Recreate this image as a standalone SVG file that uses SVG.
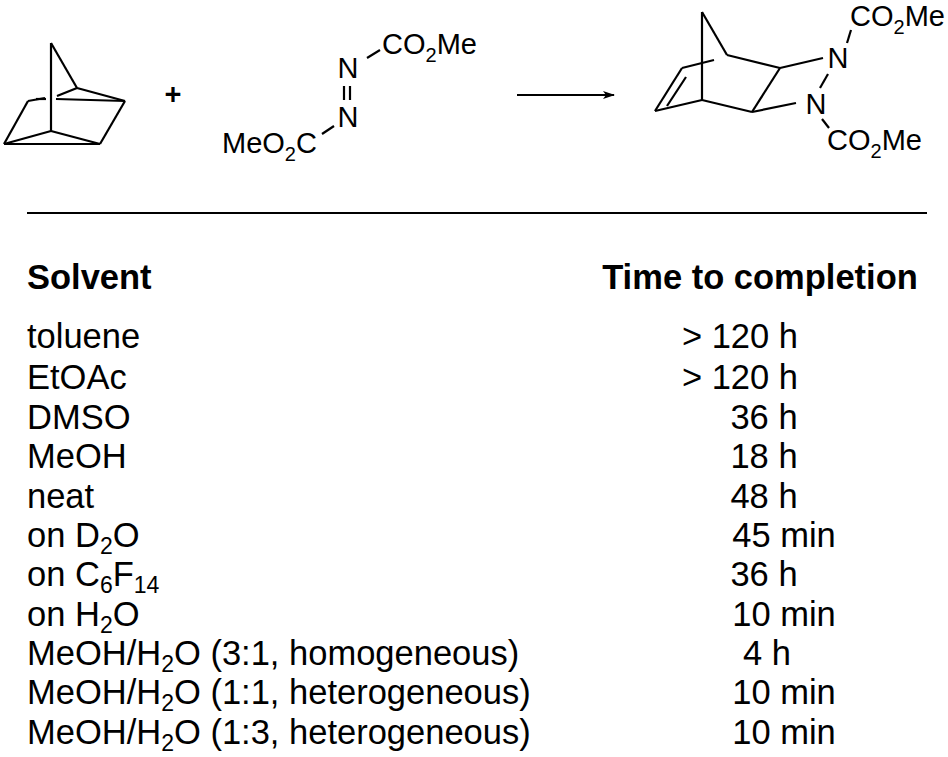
<svg xmlns="http://www.w3.org/2000/svg" width="948" height="757" viewBox="0 0 948 757">
<style>
line,polyline{stroke:#000;stroke-width:2.2;fill:none}
text{font-family:"Liberation Sans",Arial,sans-serif;fill:#000}
.t{font-size:29px}
.r{font-size:34.5px}
.h{font-size:34.5px;font-weight:bold}
.c{text-anchor:middle}
</style>
<defs><marker id="ah" markerWidth="12" markerHeight="8" refX="11" refY="4" orient="auto" markerUnits="userSpaceOnUse"><path d="M0,0 L12,4 L0,8 L3,4 Z" fill="#000"/></marker></defs>
<g id="quadricyclane">
<line x1="51" y1="43" x2="51" y2="131"/><line x1="51" y1="43" x2="77" y2="88"/>
<line x1="77" y1="88" x2="125" y2="101"/><line x1="28" y1="101" x2="45" y2="98"/><line x1="57" y1="96" x2="77" y2="88"/>
<line x1="36" y1="99" x2="46" y2="99"/><line x1="56" y1="99" x2="125" y2="101"/>
<line x1="28" y1="101" x2="4" y2="144"/><line x1="4" y1="144" x2="51" y2="131"/><line x1="51" y1="131" x2="100" y2="144"/>
<line x1="4" y1="144" x2="100" y2="144"/><line x1="100" y1="144" x2="125" y2="101"/>
</g>
<g id="plus"><text x="173" y="104" class="t c" font-size="32" font-weight="bold">+</text></g>
<g id="azo">
<text x="348" y="78" class="t c">N</text><text x="348" y="127" class="t c">N</text>
<line x1="344" y1="86" x2="344" y2="100"/><line x1="350" y1="86" x2="350" y2="100"/>
<line x1="367" y1="58" x2="380" y2="50"/><line x1="322" y1="134" x2="334" y2="126"/>
<text x="382" y="54" class="t">CO<tspan font-size="20" dy="8">2</tspan><tspan dy="-8">Me</tspan></text>
<text x="222" y="153" class="t">MeO<tspan font-size="20" dy="8">2</tspan><tspan dy="-8">C</tspan></text>
</g>
<g id="connectors"><line x1="517" y1="95" x2="614" y2="95" marker-end="url(#ah)"/></g>
<g id="product">
<line x1="702" y1="12" x2="727" y2="55"/><line x1="702" y1="12" x2="702" y2="100"/>
<line x1="727" y1="55" x2="780" y2="68"/><line x1="682" y1="68" x2="714" y2="60"/>
<line x1="682" y1="68" x2="655" y2="111"/><line x1="686" y1="77" x2="667" y2="106"/>
<line x1="655" y1="111" x2="702" y2="100"/><line x1="702" y1="100" x2="752" y2="112"/>
<line x1="752" y1="112" x2="780" y2="68"/><line x1="780" y1="68" x2="823" y2="58"/>
<line x1="752" y1="112" x2="796" y2="103"/><line x1="828" y1="74" x2="820" y2="88"/>
<line x1="847" y1="43" x2="851" y2="30"/><line x1="822" y1="119" x2="829" y2="128"/>
<text x="838" y="68" class="t c">N</text><text x="816" y="114" class="t c">N</text>
<text x="850" y="26" class="t">CO<tspan font-size="20" dy="8">2</tspan><tspan dy="-8">Me</tspan></text>
<text x="827" y="150" class="t">CO<tspan font-size="20" dy="8">2</tspan><tspan dy="-8">Me</tspan></text>
</g>
<line x1="27" y1="213" x2="927" y2="213"/>
<g id="table">
<text x="27" y="289" class="h">Solvent</text><text x="760" y="289" class="h c">Time to completion</text>
<text x="27" y="348" class="r">toluene</text><text x="740" y="348" class="r c">&gt; 120 h</text>
<text x="27" y="389" class="r">EtOAc</text><text x="740" y="389" class="r c">&gt; 120 h</text>
<text x="27" y="429" class="r">DMSO</text><text x="764" y="429" class="r c">36 h</text>
<text x="27" y="468" class="r">MeOH</text><text x="764" y="468" class="r c">18 h</text>
<text x="27" y="508" class="r">neat</text><text x="764" y="508" class="r c">48 h</text>
<text x="27" y="547" class="r">on D<tspan font-size="23" dy="7">2</tspan><tspan dy="-7">O</tspan></text><text x="784" y="547" class="r c">45 min</text>
<text x="27" y="586" class="r">on C<tspan font-size="23" dy="7">6</tspan><tspan dy="-7">F</tspan><tspan font-size="23" dy="7">14</tspan></text><text x="764" y="586" class="r c">36 h</text>
<text x="27" y="626" class="r">on H<tspan font-size="23" dy="7">2</tspan><tspan dy="-7">O</tspan></text><text x="784" y="626" class="r c">10 min</text>
<text x="27" y="665" class="r">MeOH/H<tspan font-size="23" dy="7">2</tspan><tspan dy="-7">O (3:1, homogeneous)</tspan></text><text x="767" y="665" class="r c">4 h</text>
<text x="27" y="704" class="r">MeOH/H<tspan font-size="23" dy="7">2</tspan><tspan dy="-7">O (1:1, heterogeneous)</tspan></text><text x="784" y="704" class="r c">10 min</text>
<text x="27" y="744" class="r">MeOH/H<tspan font-size="23" dy="7">2</tspan><tspan dy="-7">O (1:3, heterogeneous)</tspan></text><text x="784" y="744" class="r c">10 min</text>
</g>
</svg>
